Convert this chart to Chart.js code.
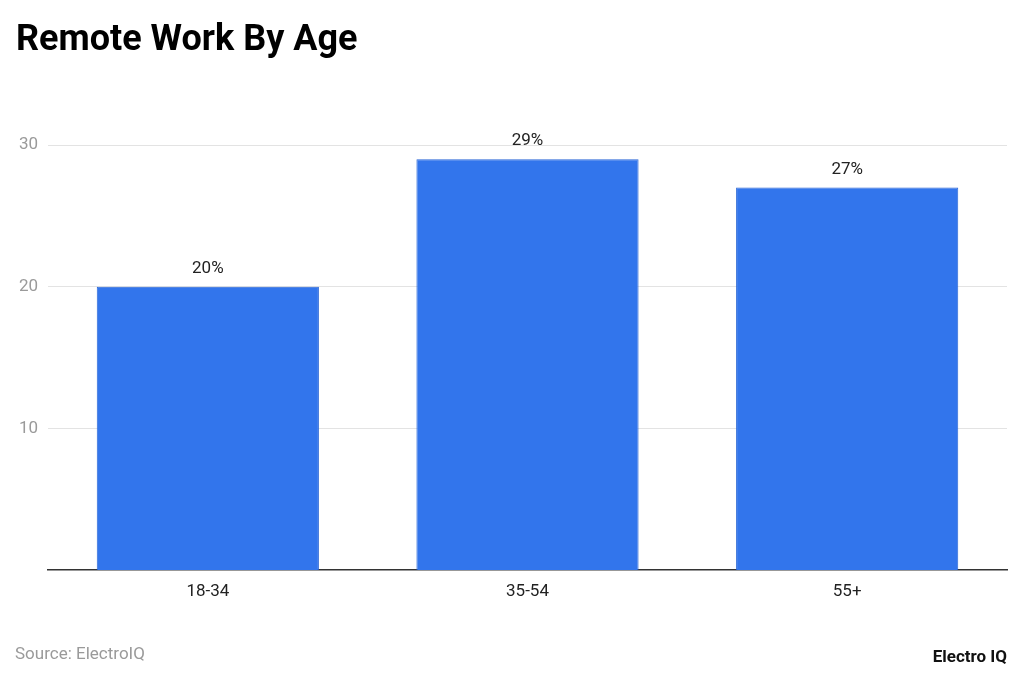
<!DOCTYPE html>
<html>
<head>
<meta charset="utf-8">
<script src="https://cdn.jsdelivr.net/npm/chart.js@4"></script>
<style>
  html, body { margin: 0; padding: 0; background: #fff; }
  #wrap { width: 1024px; height: 676px; }
</style>
</head>
<body>
<div id="wrap"><canvas id="chart" width="1024" height="676"></canvas></div>
<script>
// data
const categories = ['18-34', '35-54', '55+'];
const values = [20, 29, 27];
const yTicks = [10, 20, 30];

// draws title, source, brand and value labels
const extras = {
  id: 'extras',
  afterDraw(chart) {
    const c = chart.ctx;
    c.save();
    c.fillStyle = '#000';
    c.font = 'bold 36px Roboto';
    c.textBaseline = 'alphabetic';
    c.textAlign = 'left';
    c.fillText('Remote Work By Age', 16, 50);

    c.fillStyle = '#9a9a9a';
    c.font = '17px Roboto';
    c.fillText('Source: ElectroIQ', 15, 659);

    c.fillStyle = '#111';
    c.font = 'bold 17px Roboto';
    c.textAlign = 'right';
    c.fillText('Electro IQ', 1007, 662);

    const meta = chart.getDatasetMeta(0);
    c.font = '17px Roboto';
    c.textAlign = 'center';
    c.fillStyle = '#222';
    meta.data.forEach((bar, i) => {
      c.fillText(values[i] + '%', bar.x, bar.y - 14);
    });
    c.restore();
  }
};

new Chart(document.getElementById('chart'), {
  type: 'bar',
  data: {
    labels: categories,
    datasets: [{
      data: values,
      backgroundColor: '#3275ec',
      borderColor: '#2a66d6',
      borderWidth: 1,
      barPercentage: 0.695,
      categoryPercentage: 1
    }]
  },
  options: {
    responsive: false,
    animation: false,
    layout: { padding: { top: 145, right: 17, bottom: 0, left: 0 } },
    plugins: { legend: { display: false }, tooltip: { enabled: false } },
    scales: {
      x: {
        grid: { display: false },
        border: { color: '#333', width: 1.5 },
        ticks: { color: '#222', font: { family: 'Roboto', size: 17 }, padding: 4 },
        afterFit(scale) { scale.height = 106; }
      },
      y: {
        min: 0,
        max: 30,
        afterBuildTicks(scale) { scale.ticks = yTicks.map(v => ({ value: v })); },
        grid: { color: '#e3e3e3', drawTicks: false },
        border: { display: false },
        ticks: { color: '#9a9a9a', font: { family: 'Roboto', size: 17 }, padding: 10 },
        afterFit(scale) { scale.width = 48; }
      }
    }
  },
  plugins: [extras]
});
</script>
</body>
</html>
